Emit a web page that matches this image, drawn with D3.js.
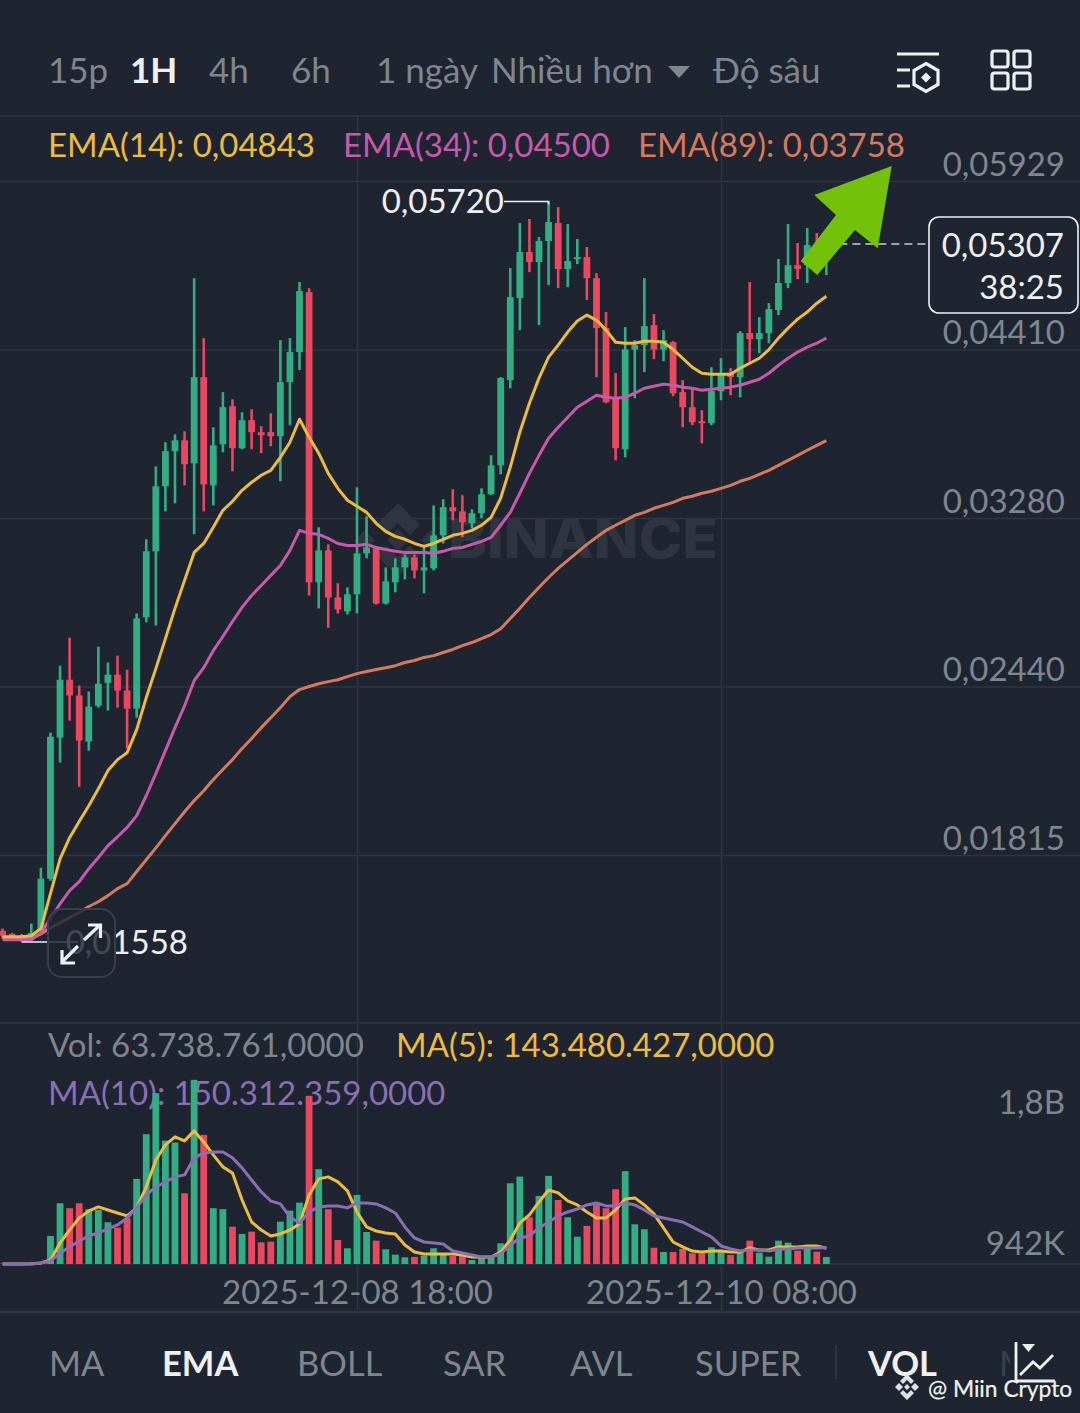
<!DOCTYPE html>
<html lang="vi">
<head>
<meta charset="utf-8">
<title>EMA / VOL 1H</title>
<script src="https://cdn.jsdelivr.net/npm/d3@7/dist/d3.min.js"></script>
<style>
  html, body { margin: 0; padding: 0; background: #1e2530; }
  svg { display: block; font-family: Lato, "Noto Sans", sans-serif; }
</style>
</head>
<body>
<svg id="chart" width="1080" height="1413"></svg>
<script>
// Hourly OHLC quotes, oldest first
const opens = [.01589,.01580,.01575,.01575,.01589,.01741,.02231,.02469,.02402,.02215,.02359,.02456,.02491,.02423,.02347,.02755,.03094,.03468,.03689,.03760,.03611,.04201,.03474,.03734,.03992,.03708,.03895,.03814,.03814,.03787,.04164,.04390,.04878,.02930,.03099,.02853,.02784,.02869,.03083,.03110,.02823,.02930,.03008,.03061,.02992,.03003,.03182,.03343,.03319,.03250,.03308,.03420,.03598,.04179,.04827,.05234,.05142,.05336,.05507,.05079,.05169,.05187,.04999,.04579,.04048,.03701,.04410,.04444,.04603,.04410,.04467,.04092,.03985,.03888,.03875,.04099,.04230,.04201,.04539,.04491,.04539,.04726,.04956,.05114,.05114,.05298,.05206];
const highs = [.01595,.01583,.01580,.01609,.01775,.02250,.02531,.02659,.02444,.02419,.02617,.02545,.02576,.02513,.02774,.03160,.03592,.03747,.03800,.03820,.04999,.04499,.03847,.04092,.04041,.03950,.03971,.03854,.03943,.04483,.04499,.04965,.04912,.03227,.03132,.02925,.02904,.03462,.03290,.03115,.03008,.03056,.03077,.03077,.03126,.03354,.03390,.03450,.03414,.03331,.03456,.03662,.04201,.05088,.05507,.05546,.05373,.05720,.05663,.05497,.05354,.05280,.05043,.04710,.04231,.04587,.04483,.04999,.04693,.04563,.04475,.04179,.04120,.03964,.04275,.04343,.04268,.04555,.04965,.04668,.04784,.05169,.05497,.05317,.05459,.05412,.05345];
const lows = [.01567,.01567,.01558,.01570,.01583,.01735,.02135,.02298,.02046,.02180,.02351,.02339,.02351,.02188,.02310,.02731,.02716,.03319,.03366,.03474,.03188,.03319,.03354,.03682,.03561,.03701,.03701,.03676,.03721,.03499,.03861,.04253,.02863,.02799,.02706,.02774,.02769,.02774,.03056,.02818,.02818,.02879,.02945,.02950,.02874,.02992,.03137,.03267,.03171,.03221,.03279,.03414,.03542,.04120,.04563,.05052,.04603,.04938,.04912,.04921,.05124,.04810,.04201,.04013,.03630,.03649,.04048,.04238,.04336,.04320,.04063,.03847,.03861,.03740,.03861,.04034,.04070,.04055,.04305,.04382,.04459,.04685,.04912,.04990,.04956,.05088,.05026];
const closes = [.01575,.01572,.01570,.01583,.01741,.02234,.02469,.02402,.02219,.02355,.02452,.02491,.02423,.02347,.02750,.03094,.03468,.03689,.03760,.03605,.04201,.03480,.03727,.03985,.03708,.03895,.03814,.03794,.03787,.04164,.04390,.04887,.02930,.03099,.02853,.02794,.02869,.03083,.03115,.02823,.02935,.03008,.03061,.02992,.03008,.03182,.03343,.03319,.03256,.03308,.03420,.03598,.04194,.04835,.05234,.05142,.05336,.05517,.05079,.05151,.05187,.04999,.04579,.04020,.03708,.04410,.04444,.04595,.04410,.04483,.04084,.03985,.03881,.03875,.04099,.04230,.04201,.04539,.04491,.04539,.04734,.04956,.05114,.05079,.05298,.05215,.05307];

// Exponential moving averages of the close
const ema14 = [.01572,.01572,.01572,.01575,.01595,.01696,.01803,.01871,.01925,.01979,.02039,.02105,.02146,.02172,.02262,.02393,.02518,.02654,.02799,.02940,.03088,.03137,.03227,.03325,.03378,.03444,.03493,.03536,.03567,.03649,.03747,.03902,.03780,.03676,.03548,.03456,.03384,.03349,.03313,.03250,.03204,.03176,.03160,.03137,.03121,.03137,.03160,.03182,.03193,.03210,.03239,.03284,.03396,.03586,.03814,.04013,.04194,.04351,.04444,.04547,.04636,.04685,.04644,.04563,.04467,.04459,.04459,.04475,.04475,.04467,.04410,.04343,.04275,.04230,.04223,.04223,.04223,.04268,.04305,.04343,.04410,.04499,.04579,.04652,.04710,.04784,.04843];
const ema34 = [.01564,.01564,.01564,.01564,.01583,.01623,.01666,.01705,.01732,.01772,.01807,.01845,.01874,.01905,.01945,.02014,.02094,.02180,.02270,.02359,.02465,.02522,.02599,.02664,.02735,.02804,.02863,.02914,.02966,.03018,.03099,.03210,.03193,.03188,.03165,.03137,.03126,.03126,.03132,.03115,.03104,.03094,.03088,.03088,.03088,.03083,.03094,.03110,.03115,.03132,.03148,.03171,.03239,.03313,.03426,.03548,.03662,.03773,.03847,.03916,.03985,.04027,.04070,.04055,.04048,.04055,.04084,.04120,.04135,.04150,.04142,.04128,.04120,.04106,.04113,.04120,.04128,.04142,.04164,.04186,.04230,.04290,.04343,.04390,.04428,.04459,.04500];
const ema89 = [.01567,.01567,.01567,.01567,.01580,.01597,.01611,.01626,.01640,.01658,.01672,.01690,.01711,.01726,.01763,.01800,.01838,.01878,.01918,.01958,.01997,.02032,.02072,.02109,.02146,.02188,.02227,.02270,.02310,.02351,.02397,.02427,.02440,.02452,.02461,.02469,.02483,.02496,.02505,.02514,.02522,.02531,.02545,.02554,.02568,.02576,.02590,.02604,.02622,.02636,.02654,.02673,.02701,.02750,.02799,.02853,.02904,.02955,.03003,.03045,.03088,.03132,.03171,.03210,.03239,.03267,.03296,.03313,.03337,.03354,.03372,.03396,.03408,.03426,.03438,.03456,.03474,.03499,.03517,.03542,.03567,.03598,.03630,.03662,.03695,.03727,.03758];

// Traded volume and its moving averages, in millions
const volumes = [3,3,3,5,12,255,552,507,552,498,491,379,330,416,774,1180,1553,1122,1104,643,1674,1174,507,498,339,273,294,197,203,385,485,558,1529,862,498,218,143,628,291,212,134,85,61,64,76,143,82,73,73,36,61,66,188,734,794,425,619,801,582,425,248,346,537,507,680,844,361,316,148,109,109,137,97,97,152,112,82,118,212,103,66,212,194,121,173,112,63.738761];
const ma5 = [0,0,0,2,9,36,191,309,419,482,519,491,464,437,510,701,946,1083,1156,1119,1210,1110,992,883,828,582,382,309,255,273,309,364,628,774,792,746,664,473,337,300,282,273,173,109,91,91,91,91,82,64,64,64,109,218,373,446,564,673,646,573,537,473,419,419,491,592,601,537,455,328,200,155,118,109,118,118,109,109,146,127,127,155,155,155,164,164,143.480427];
const ma10 = [0,0,0,1,9,27,100,155,209,255,282,319,355,419,510,628,701,746,792,810,965,1010,1019,1019,965,874,764,655,573,546,428,373,473,519,528,528,510,555,555,546,510,464,337,237,200,191,182,118,100,82,64,64,91,173,237,255,328,382,437,473,500,537,555,528,528,555,537,491,437,419,400,382,337,291,246,164,137,118,127,127,118,137,137,146,146,146,150.312359];

// Axis labels and toolbar captions
const priceTicks = [0.05929, 0.04410, 0.03280, 0.02440, 0.01815];
const volumeTicks = [{ text: "1,8B", y: 1114 }, { text: "942K", y: 1255 }];
const timeTicks = ["2025-12-08T18:00:00Z", "2025-12-10T08:00:00Z"].map(d => new Date(d));
const topTabs = [
  { text: "15p", x: 48 }, { text: "1H", x: 130, on: true }, { text: "4h", x: 209 }, { text: "6h", x: 291 },
  { text: "1 ngày", x: 376 }, { text: "Nhiều hơn", x: 491 }, { text: "Độ sâu", x: 713 }
];
const bottomTabs = [
  { text: "MA", x: 49 }, { text: "EMA", x: 162, on: true }, { text: "BOLL", x: 297 }, { text: "SAR", x: 443 },
  { text: "AVL", x: 570 }, { text: "SUPER", x: 695 }, { text: "VOL", x: 868, on: true }
];
const lastPrice = 0.05307, highPrice = 0.05720, lowPrice = 0.01558;

const colors = {
  bg: "#1e2530", grid: "#2f3641", muted: "#7f8690", white: "#eef0f3",
  up: "#33ae84", down: "#e9485f", yellow: "#edbb3e", magenta: "#c958ae", salmon: "#d8795c",
  purple: "#8a6fb4", arrow: "#74c109"
};
const TEXT_SIZE = 33;

const svg = d3.select("#chart");
const W = 1080;
svg.append("rect").attr("width", W).attr("height", 1413).attr("fill", colors.bg);

// One candle per hour, index 37 is 2025-12-08 18:00 UTC
const HOUR = 3600e3;
const dates = closes.map((_, i) => new Date(timeTicks[0].getTime() + (i - 37) * HOUR));
const x = d3.scaleUtc().domain(timeTicks).range([357, 721]);
const y = d3.scaleLog().domain([0.05929, 0.01815]).range([181, 855]);
const yVol = d3.scaleLinear().domain([0, 1800]).range([1264, 1066]);

const commaLocale = d3.formatLocale({ decimal: ",", thousands: ".", grouping: [3], currency: ["", ""] });
const priceFmt = commaLocale.format(".5f");
const fmt4 = commaLocale.format(",.4f");

// Horizontal and vertical rules
const gridG = svg.append("g");
[116, 1023, 1264].forEach(v => gridG.append("line").attr("x1", 0).attr("x2", W).attr("y1", v).attr("y2", v).attr("stroke", colors.grid).attr("stroke-width", 1.5));
gridG.append("line").attr("x1", 0).attr("x2", W).attr("y1", 1312).attr("y2", 1312).attr("stroke", colors.grid).attr("stroke-width", 2.5);

const yAxis = d3.axisRight(y).tickValues(priceTicks).tickFormat(priceFmt).tickSize(W);
const yAxisG = svg.append("g").attr("class", "price-axis").call(yAxis);
yAxisG.select(".domain").remove();
yAxisG.selectAll(".tick line").attr("stroke", colors.grid).attr("stroke-width", 1.5);
yAxisG.selectAll(".tick text")
  .attr("x", 1065).attr("dy", 0).attr("y", -6)
  .attr("text-anchor", "end").attr("fill", colors.muted)
  .attr("font-size", TEXT_SIZE).attr("font-family", "Lato, sans-serif");

const xAxis = d3.axisBottom(x).tickValues(timeTicks).tickFormat(d3.utcFormat("%Y-%m-%d %H:%M")).tickSize(1196);
const xAxisG = svg.append("g").attr("transform", "translate(0,116)").call(xAxis);
xAxisG.select(".domain").remove();
xAxisG.selectAll(".tick line").attr("stroke", colors.grid).attr("stroke-width", 1.5);
xAxisG.selectAll(".tick text")
  .attr("y", 1188).attr("dy", 0)
  .attr("fill", colors.muted).attr("font-size", TEXT_SIZE).attr("font-family", "Lato, sans-serif");

// Watermark
const mark = svg.append("g").attr("fill", "#2e3540");
mark.append("text").attr("x", 448).attr("y", 558).attr("font-size", 55).attr("font-weight", 800)
  .attr("textLength", 270).attr("lengthAdjust", "spacingAndGlyphs").attr("font-family", "Inter, Lato, sans-serif").text("BINANCE");
mark.append("path").attr("d", "M398 503 L420 525 L410 535 L398 523 L386 535 L376 525Z M398 577 L420 555 L410 545 L398 557 L386 545 L376 555Z M398 529 L409 540 L398 551 L387 540Z M365 530 L375 540 L365 550 L355 540Z M431 530 L441 540 L431 550 L421 540Z");

// Indicator legends sit under the bars
const legend = (txt, lx, ly, fill) => svg.append("text").attr("x", lx).attr("y", ly).attr("font-size", TEXT_SIZE).attr("fill", fill).text(txt);
legend(`EMA(14): ${priceFmt(ema14.at(-1))}`, 48, 157, colors.yellow);
legend(`EMA(34): ${priceFmt(ema34.at(-1))}`, 343, 157, colors.magenta);
legend(`EMA(89): ${priceFmt(ema89.at(-1))}`, 638, 157, colors.salmon);
legend(`Vol: ${fmt4(volumes.at(-1) * 1e6)}`, 48, 1057, colors.muted);
legend(`MA(5): ${fmt4(ma5.at(-1) * 1e6)}`, 396, 1057, colors.yellow);
legend(`MA(10): ${fmt4(ma10.at(-1) * 1e6)}`, 48, 1105, colors.purple);

// Candles
const isUp = i => closes[i] >= opens[i];
const candle = svg.append("g").selectAll("g").data(closes.map((_, i) => i)).join("g");
candle.append("line")
  .attr("x1", i => x(dates[i])).attr("x2", i => x(dates[i]))
  .attr("y1", i => y(highs[i])).attr("y2", i => y(lows[i]))
  .attr("stroke", i => isUp(i) ? colors.up : colors.down).attr("stroke-width", 2.6);
candle.append("rect")
  .attr("x", i => x(dates[i]) - 3.4).attr("width", 6.8)
  .attr("y", i => Math.min(y(opens[i]), y(closes[i])))
  .attr("height", i => Math.max(2, Math.abs(y(opens[i]) - y(closes[i]))))
  .attr("fill", i => isUp(i) ? colors.up : colors.down);

// EMA curves
const curve = d3.line().x((_, i) => x(dates[i])).y(d => y(d));
[[ema89, colors.salmon], [ema34, colors.magenta], [ema14, colors.yellow]].forEach(([s, c]) =>
  svg.append("path").attr("d", curve(s)).attr("fill", "none").attr("stroke", c).attr("stroke-width", 3).attr("stroke-linejoin", "round"));

// Volume bars and averages
svg.append("g").selectAll("rect").data(volumes).join("rect")
  .attr("x", (_, i) => x(dates[i]) - 3.4).attr("width", 6.8)
  .attr("y", d => yVol(d)).attr("height", d => yVol(0) - yVol(d))
  .attr("fill", (_, i) => isUp(i) ? colors.up : colors.down);
const volCurve = d3.line().x((_, i) => x(dates[i])).y(d => yVol(d));
[[ma5, colors.yellow], [ma10, colors.purple]].forEach(([s, c]) =>
  svg.append("path").attr("d", volCurve(s)).attr("fill", "none").attr("stroke", c).attr("stroke-width", 3).attr("stroke-linejoin", "round"));

// Volume axis captions
svg.append("g").selectAll("text").data(volumeTicks).join("text")
  .attr("x", 1065).attr("y", d => d.y).attr("text-anchor", "end")
  .attr("font-size", TEXT_SIZE).attr("fill", colors.muted).text(d => d.text);

// Highest price marker
const hiIdx = highs.indexOf(highPrice);
svg.append("path").attr("fill", "none").attr("stroke", colors.white).attr("stroke-width", 1.5)
  .attr("d", `M${x(dates[hiIdx])} ${y(highPrice) + 3} V${y(highPrice)} H504`);
svg.append("text").attr("x", 504).attr("y", y(highPrice) + 12).attr("text-anchor", "end")
  .attr("font-size", TEXT_SIZE).attr("fill", colors.white).text(priceFmt(highPrice));

// Lowest price marker, partly covered by the expand button
const loIdx = lows.indexOf(lowPrice);
svg.append("line").attr("x1", x(dates[loIdx])).attr("x2", 78).attr("y1", y(lowPrice)).attr("y2", y(lowPrice))
  .attr("stroke", colors.white).attr("stroke-width", 1.5);
svg.append("text").attr("x", 188).attr("y", y(lowPrice) + 12).attr("text-anchor", "end")
  .attr("font-size", TEXT_SIZE).attr("fill", colors.white).text(priceFmt(lowPrice));
svg.append("rect").attr("x", 48).attr("y", 909).attr("width", 67).attr("height", 68).attr("rx", 14)
  .attr("fill", colors.bg).attr("fill-opacity", 0.82).attr("stroke", "#383f4a").attr("stroke-width", 2);
svg.append("path").attr("fill", "none").attr("stroke", colors.white).attr("stroke-width", 3.2).attr("stroke-linejoin", "miter")
  .attr("d", "M62 962 L78 946 M62 950 V963 H75 M84 940 L100 925 M88 925 H100.5 V938");

// Last price tag
svg.append("line").attr("x1", x(dates.at(-1))).attr("x2", 929).attr("y1", y(lastPrice)).attr("y2", y(lastPrice))
  .attr("stroke", "#c9ccd1").attr("stroke-width", 1.5).attr("stroke-dasharray", "8 5");
svg.append("rect").attr("x", 929).attr("y", 217).attr("width", 149).attr("height", 96).attr("rx", 10)
  .attr("fill", colors.bg).attr("stroke", colors.white).attr("stroke-width", 1.6);
svg.append("text").attr("x", 1064).attr("y", 257).attr("text-anchor", "end").attr("font-size", TEXT_SIZE).attr("fill", colors.white).text(priceFmt(lastPrice));
svg.append("text").attr("x", 1064).attr("y", 299).attr("text-anchor", "end").attr("font-size", TEXT_SIZE).attr("fill", colors.white).text("38:25");

// Hand-drawn arrow overlay
svg.append("path").attr("fill", colors.arrow)
  .attr("d", "M891.7 166 L877.7 248.3 L855 230 L817.3 275 L800.7 261 L836 215 L814.3 195 Z");

// Top toolbar
svg.append("g").selectAll("text").data(topTabs).join("text")
  .attr("x", d => d.x).attr("y", 83).attr("font-size", 35)
  .attr("font-weight", d => d.on ? 700 : 400)
  .attr("fill", d => d.on ? colors.white : colors.muted).text(d => d.text);
svg.append("path").attr("d", "M668 66 H690 L679 78 Z").attr("fill", colors.muted);

const icons = svg.append("g").attr("fill", "none").attr("stroke", colors.white).attr("stroke-width", 3.2);
icons.append("path").attr("d", "M897 54 H939 M897 70 H910 M897 86 H910");
icons.append("path").attr("d", "M926 63.5 L938 70.5 V84.5 L926 91.5 L914 84.5 V70.5 Z");
icons.append("path").attr("d", "M926 72.5 L931 77.5 L926 82.5 L921 77.5 Z").attr("fill", colors.white).attr("stroke", "none");
[[992, 51], [1014, 51], [992, 73], [1014, 73]].forEach(([a, b]) =>
  icons.append("rect").attr("x", a).attr("y", b).attr("width", 16).attr("height", 16).attr("rx", 2.5));

// Bottom toolbar
svg.append("g").selectAll("text").data(bottomTabs).join("text")
  .attr("x", d => d.x).attr("y", 1376).attr("font-size", 34.5)
  .attr("font-weight", d => d.on ? 700 : 400)
  .attr("fill", d => d.on ? colors.white : colors.muted).text(d => d.text);
svg.append("line").attr("x1", 836).attr("x2", 836).attr("y1", 1345).attr("y2", 1379).attr("stroke", colors.grid).attr("stroke-width", 2);
svg.append("text").attr("x", 999).attr("y", 1376).attr("font-size", 34.5).attr("fill", "#3a414c").text("M");
svg.append("rect").attr("x", 1010).attr("y", 1335).attr("width", 70).attr("height", 55).attr("fill", colors.bg);
const chartIcon = svg.append("g").attr("fill", "none").attr("stroke", colors.white).attr("stroke-width", 2.8);
chartIcon.append("path").attr("d", "M1016 1342 V1381 H1055");
chartIcon.append("path").attr("d", "M1020 1375 L1033 1362 L1040 1368 L1053 1355");
chartIcon.append("path").attr("d", "M1022 1344 H1035 L1028.5 1352 Z").attr("fill", colors.white).attr("stroke", "none");

// Author credit
svg.append("text").attr("x", 928).attr("y", 1397).attr("font-size", 22.8).attr("fill", "#f2f3f5").attr("stroke", "#f2f3f5").attr("stroke-width", 0.2).text("@ Miin Crypto");
svg.append("path").attr("fill", "#dfe1e5")
  .attr("d", "M907 1374 L914 1381 L911 1384 L907 1380 L903 1384 L900 1381 Z M907 1400 L914 1393 L911 1390 L907 1394 L903 1390 L900 1393 Z M895 1387 L899 1383 L903 1387 L899 1391 Z M911 1387 L915 1383 L919 1387 L915 1391 Z M907 1384 L910 1387 L907 1390 L904 1387 Z");
</script>
</body>
</html>
